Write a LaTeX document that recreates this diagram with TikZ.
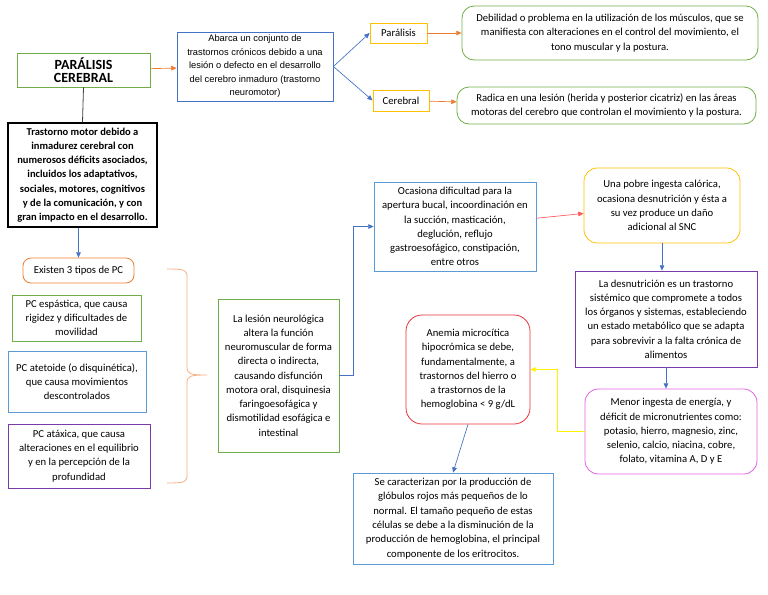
\documentclass[tikz,border=0pt]{standalone}
\usepackage{fontspec}
\setmainfont{Carlito}
\newfontfamily\arialfont{Liberation Sans}
\usepackage{xcolor}
\usetikzlibrary{arrows.meta}
\definecolor{green}{HTML}{70AD47}
\definecolor{blue}{HTML}{4472C4}
\definecolor{lightblue}{HTML}{5B9BD5}
\definecolor{gold}{HTML}{FFC000}
\definecolor{orange}{HTML}{ED7D31}
\definecolor{purple}{HTML}{7A3AAA}
\definecolor{red}{HTML}{E8343A}
\definecolor{magenta}{HTML}{E060E0}
\definecolor{yellow}{HTML}{FFF200}
\definecolor{peach}{HTML}{F4B183}
\definecolor{pink}{HTML}{FF5A5A}
\newcommand{\fs}[1]{\fontsize{#1}{10.7}\selectfont}

\begin{document}
\begin{tikzpicture}[x=.75pt,y=-.75pt,
    every node/.style={font=\fs{8},align=center,inner sep=0pt},
    box/.style={draw=#1,line width=.6pt},
    rbox/.style={box=#1,rounded corners=9pt},
    arr/.style={-{Triangle[length=4pt,width=3.5pt]},line width=.5pt,draw=#1}]
  \useasboundingbox (0,0) rectangle (768,594);
  % left column
  \node[box=green,minimum width=99.75pt,minimum height=25.5pt,font=\bfseries\fontsize{10.5}{10}\selectfont] (title) at (83.5,70) {PARÁLISIS\\CEREBRAL};
  \node[box=black,line width=.9pt,minimum width=111.75pt,minimum height=78pt,font=\bfseries\fs{7.9}] (trast) at (82.5,175) {Trastorno motor debido a\\inmadurez cerebral con\\numerosos déficits asociados,\\incluidos los adaptativos,\\sociales, motores, cognitivos\\y de la comunicación, y con\\gran impacto en el desarrollo.};
  \node[rbox=orange,rounded corners=6pt,minimum width=83.25pt,minimum height=18.75pt] (exist) at (78.5,270.5) {Existen 3 tipos de PC};
  \node[box=green,minimum width=96.75pt,minimum height=34.5pt] (espas) at (76.5,318) {PC espástica, que causa\\rigidez y dificultades de\\movilidad};
  \node[box=lightblue,minimum width=103.5pt,minimum height=45.75pt] (ateto) at (77,381.5) {PC atetoide (o disquinética),\\que causa movimientos\\descontrolados};
  \node[box=purple,minimum width=106.5pt,minimum height=48pt] (ataxi) at (79,456) {PC atáxica, que causa\\alteraciones en el equilibrio\\y en la percepción de la\\profundidad};
  \draw[peach,line width=.6pt] (167,269) .. controls (185,269) and (187,270) .. (187,277) -- (187,367)
    .. controls (187,374) and (190,375) .. (207,375) .. controls (190,375) and (187,376) .. (187,383)
    -- (187,475) .. controls (187,482) and (185,483) .. (167,483);
  \node[box=green,minimum width=90.75pt,minimum height=114.75pt] (lesion) at (278.5,375.5) {La lesión neurológica\\altera la función\\neuromuscular de forma\\directa o indirecta,\\causando disfunción\\motora oral, disquinesia\\faringoesofágica y\\dismotilidad esofágica e\\intestinal};
  % top row
  \node[box=blue,minimum width=117pt,minimum height=51.75pt,font=\arialfont\fontsize{7}{10.1}\selectfont] (abarca) at (255,66.5) {Abarca un conjunto de\\trastornos crónicos debido a una\\lesión o defecto en el desarrollo\\del cerebro inmaduro (trastorno\\neuromotor)};
  \node[box=gold,minimum width=42.75pt,minimum height=15pt] (paral) at (398.5,33) {Parálisis};
  \node[box=gold,minimum width=42pt,minimum height=15.75pt] (cereb) at (401,100.5) {Cerebral};
  \node[rbox=green,minimum width=222pt,minimum height=40.5pt] (debil) at (610,33) {Debilidad o problema en la utilización de los músculos, que se\\manifiesta con alteraciones en el control del movimiento, el\\tono muscular y la postura.};
  \node[rbox=green,minimum width=224.25pt,minimum height=27.75pt] (radica) at (606.5,105.5) {Radica en una lesión (herida y posterior cicatriz) en las áreas\\motoras del cerebro que controlan el movimiento y la postura.};
  % right part
  \node[box=lightblue,minimum width=121.5pt,minimum height=66.75pt] (ocas) at (455,226.5) {Ocasiona dificultad para la\\apertura bucal, incoordinación en\\la succión, masticación,\\deglución, reflujo\\gastroesofágico, constipación,\\entre otros};
  \node[rbox=gold,rounded corners=10pt,minimum width=117pt,minimum height=56.25pt] (pobre) at (662,205.5) {Una pobre ingesta calórica,\\ocasiona desnutrición y ésta a\\su vez produce un daño\\adicional al SNC};
  \node[box=purple,minimum width=136.5pt,minimum height=72pt] (desnu) at (666,319) {La desnutrición es un trastorno\\sistémico que compromete a todos\\los órganos y sistemas, estableciendo\\un estado metabólico que se adapta\\para sobrevivir a la falta crónica de\\alimentos};
  \node[rbox=magenta,rounded corners=10pt,minimum width=129pt,minimum height=63.75pt] (menor) at (671,431.5) {Menor ingesta de energía, y\\déficit de micronutrientes como:\\potasio, hierro, magnesio, zinc,\\selenio, calcio, niacina, cobre,\\folato, vitamina A, D y E};
  \node[rbox=red,rounded corners=12pt,minimum width=93pt,minimum height=81.75pt] (anemia) at (468,369.5) {Anemia microcítica\\hipocrómica se debe,\\fundamentalmente, a\\trastornos del hierro o\\a trastornos de la\\hemoglobina < 9 g/dL};
  \node[box=lightblue,minimum width=150pt,minimum height=68.25pt] (secar) at (453,518.5) {Se caracterizan por la producción de\\glóbulos rojos más pequeños de lo\\normal. El tamaño pequeño de estas\\células se debe a la disminución de la\\producción de hemoglobina, el principal\\componente de los eritrocitos.};
  % connectors
  \draw[arr=orange] (title) -- (abarca);
  \draw[arr=blue] (abarca.east) -- (paral.west);
  \draw[arr=blue] (abarca.east) -- (cereb.west);
  \draw[arr=orange] (paral) -- (debil);
  \draw[arr=orange] (cereb) -- (radica);
  \draw[black!75,line width=.6pt] (title.south) -- (trast.north);
  \draw[arr=blue] (trast.south -| exist.north) -- (exist.north);
  \draw[arr=blue] (lesion.east) -- ++(14,0) |- (ocas.west);
  \draw[arr=pink] (ocas) -- (pobre);
  \draw[arr=blue] (pobre.south) -- (pobre.south |- desnu.north);
  \draw[arr=blue] (desnu.south) -- (desnu.south |- menor.north);
  \draw[arr=yellow,line width=1pt] (menor.west) -- ++(-27,0) |- (anemia.east);
  \draw[arr=blue] (anemia.south) -- (secar.north);
\end{tikzpicture}
\end{document}
